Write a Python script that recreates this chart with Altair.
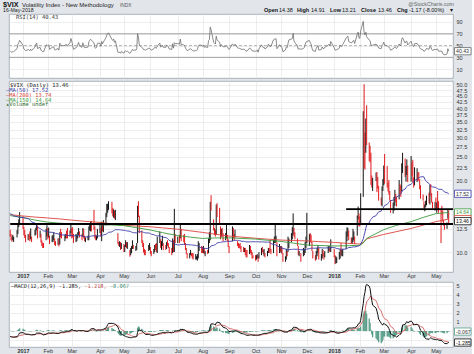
import altair as alt
import numpy as np
import pandas as pd

# ---------------- values ----------------
HOLIDAYS = ["2016-11-24", "2016-12-26", "2017-01-02", "2017-01-16", "2017-02-20",
            "2017-04-14", "2017-05-29", "2017-07-04", "2017-09-04", "2017-11-23",
            "2017-12-25", "2018-01-01", "2018-01-15", "2018-02-19", "2018-03-30"]
DISPLAY_START = "2016-12-19"

# daily closes, one inner list per month (Oct/Nov and early Dec 2016 only warm up the indicators)
close_2016 = [
    [13.57, 13.63, 12.99, 12.84, 13.48, 13.38, 15.36, 15.91, 16.12, 16.12, 16.21, 15.28, 14.41, 13.75, 13.34,
     13.02, 13.46, 14.24, 15.36, 16.19, 17.06],
    [18.56, 19.32, 22.08, 22.51, 18.71, 18.74, 14.38, 14.74, 14.17, 14.48, 13.37, 13.72, 13.35, 12.85, 12.42,
     12.41, 12.43, 12.34, 13.15, 12.90, 13.33],
    [14.07, 14.12, 12.14, 11.79, 12.22, 12.64, 11.75, 12.64, 12.72, 13.19, 12.79, 12.20,
     11.71, 11.45, 11.27, 11.43, 11.44, 11.99, 12.95, 13.37, 14.04],
]
high_2016 = [12.40, 11.90, 11.60, 11.80, 11.60, 12.35, 13.10, 13.70, 14.68]
low_2016 = [11.60, 11.20, 11.05, 11.20, 11.02, 11.50, 11.90, 12.70, 13.20]

close_2017 = [
    [12.85, 11.85, 11.67, 11.32, 11.56, 11.49, 11.26, 11.54, 11.23, 11.87, 12.48, 12.78, 11.54, 11.77, 11.07, 10.81, 10.63, 10.58, 11.88, 11.99],
    [11.81, 11.93, 10.97, 11.37, 11.45, 11.45, 10.88, 10.85, 11.07, 10.74, 11.97, 11.76, 11.49, 11.57, 11.74, 11.71, 11.47, 12.09, 12.92],
    [12.54, 11.81, 10.96, 11.24, 11.45, 11.86, 12.30, 11.66, 11.35, 12.30, 11.63, 11.21, 11.28, 11.34, 12.47, 12.81, 13.12, 12.96, 12.50, 11.53, 11.42, 11.54, 12.37],
    [12.38, 11.79, 12.89, 12.39, 12.87, 14.05, 15.07, 15.77, 15.96, 14.66, 14.42, 14.93, 14.15, 14.63, 10.84, 10.76, 10.85, 10.36, 10.82],
    [10.11, 10.59, 10.68, 10.46, 10.57, 9.77, 10.11, 10.21, 10.60, 10.40, 10.42, 10.65, 15.59, 14.66, 12.04, 10.93, 10.72, 10.02, 9.99, 9.81, 10.38, 10.41],
    [9.89, 9.75, 10.07, 10.45, 10.39, 10.16, 10.70, 11.46, 10.42, 10.64, 10.90, 10.38, 10.37, 10.86, 10.75, 10.48, 10.02, 9.90, 11.06, 10.03, 11.44, 11.18],
    [11.22, 11.07, 12.54, 11.19, 11.11, 10.89, 10.30, 9.90, 9.51, 9.82, 9.89, 9.79, 9.58, 9.36, 9.43, 9.43, 9.60, 10.11, 10.29, 10.26],
    [10.09, 10.28, 9.95, 10.03, 9.93, 10.96, 11.11, 16.04, 15.51, 12.33, 12.04, 11.74, 15.55, 14.26, 13.19, 11.35, 12.25, 11.78, 11.28, 11.32, 11.70, 11.22, 10.59],
    [10.13, 12.23, 11.63, 11.55, 12.12, 10.73, 10.58, 10.50, 10.44, 10.17, 10.15, 10.18, 9.78, 9.67, 9.59, 10.21, 10.17, 9.87, 9.55, 9.51],
    [9.45, 9.51, 9.63, 9.19, 9.65, 10.33, 10.08, 9.85, 9.91, 9.61, 9.91, 10.31, 10.07, 10.05, 9.97, 11.07, 11.16, 11.23, 11.30, 9.80, 10.50, 10.18],
    [10.20, 9.93, 9.14, 9.40, 9.89, 9.78, 10.50, 11.29, 11.50, 11.59, 13.13, 11.76, 11.43, 10.65, 9.73, 9.88, 9.67, 9.87, 10.03, 10.70, 11.28],
    [11.43, 11.68, 11.33, 11.02, 10.16, 9.58, 9.34, 9.92, 10.18, 10.49, 9.42, 9.53, 10.03, 9.72, 9.62, 9.90, 10.25, 10.47, 10.18, 11.04],
]
high_2017 = [
    [14.10, 12.75, 12.35, 11.80, 11.90, 11.85, 12.20, 12.55, 11.60, 12.40, 12.65, 13.10, 12.90, 12.30, 11.90, 11.20, 10.95, 10.90, 12.50, 12.95],
    [12.60, 12.65, 11.70, 11.70, 11.80, 12.10, 11.40, 11.10, 11.40, 11.40, 12.10, 12.50, 12.10, 11.80, 11.90, 12.30, 12.60, 12.30, 13.20],
    [12.60, 12.70, 11.90, 11.90, 11.80, 12.10, 12.60, 12.20, 11.90, 12.60, 12.50, 11.70, 11.50, 11.70, 12.80, 13.20, 13.40, 13.50, 15.00, 12.80, 11.80, 11.70, 12.50],
    [13.10, 12.60, 13.40, 13.10, 13.60, 14.60, 15.90, 15.90, 16.30, 16.20, 15.30, 15.10, 14.90, 15.00, 12.00, 11.00, 11.10, 11.00, 10.90],
    [10.80, 10.70, 11.20, 11.00, 11.00, 10.20, 10.40, 10.60, 11.20, 10.70, 10.60, 10.90, 15.60, 16.30, 14.20, 12.30, 11.20, 10.90, 10.30, 10.20, 10.70, 10.90],
    [10.50, 10.10, 10.30, 10.70, 10.80, 10.90, 11.60, 12.20, 11.30, 11.10, 11.70, 10.90, 10.70, 11.00, 11.20, 10.90, 10.50, 10.40, 11.40, 11.20, 15.16, 11.90],
    [11.60, 11.80, 13.20, 12.50, 11.80, 11.90, 10.90, 10.40, 9.90, 9.90, 10.20, 9.90, 9.90, 9.90, 9.80, 9.60, 9.80, 11.10, 10.90, 10.60],
    [10.50, 10.60, 10.40, 10.10, 10.20, 11.40, 12.10, 16.20, 17.28, 13.70, 12.60, 12.40, 15.80, 16.00, 15.30, 12.80, 12.50, 12.60, 12.00, 12.00, 13.00, 11.80, 11.30],
    [10.60, 12.80, 12.60, 11.90, 12.40, 11.10, 10.90, 10.80, 10.90, 10.60, 10.50, 10.40, 10.40, 10.20, 10.20, 10.70, 10.60, 10.20, 10.00, 9.70],
    [9.70, 9.70, 9.80, 9.70, 10.00, 10.40, 10.50, 10.20, 10.30, 9.90, 10.10, 10.40, 10.40, 11.20, 10.30, 11.20, 11.60, 13.20, 11.70, 11.00, 10.80, 10.60],
    [10.60, 10.50, 9.90, 9.60, 10.30, 10.10, 11.60, 11.40, 12.00, 12.70, 14.51, 12.60, 12.10, 11.40, 10.60, 10.10, 9.90, 10.40, 10.30, 11.00, 11.60],
    [14.58, 11.90, 12.00, 11.80, 11.00, 10.10, 9.70, 10.10, 10.40, 10.70, 10.40, 9.80, 10.30, 10.20, 9.90, 10.10, 10.60, 10.60, 10.50, 11.30],
]
low_2017 = [
    [12.50, 11.75, 11.45, 10.98, 11.20, 11.30, 11.10, 11.30, 11.00, 11.70, 11.80, 12.30, 11.40, 11.50, 10.95, 10.60, 10.40, 10.40, 11.20, 11.60],
    [11.30, 11.50, 10.80, 11.00, 11.00, 11.20, 10.70, 10.60, 10.70, 10.55, 10.75, 11.50, 11.40, 11.10, 11.40, 11.40, 11.40, 11.60, 12.00],
    [11.40, 11.50, 10.90, 11.00, 11.10, 11.40, 11.80, 11.50, 11.20, 11.60, 11.40, 11.10, 11.00, 11.20, 11.20, 12.30, 12.20, 12.20, 12.40, 11.40, 11.20, 11.20, 11.40],
    [12.00, 11.60, 11.10, 12.20, 12.10, 12.90, 14.00, 14.60, 15.00, 14.50, 14.10, 13.90, 13.80, 13.60, 10.80, 10.60, 10.50, 10.20, 10.30],
    [10.00, 10.00, 10.50, 10.40, 10.30, 9.56, 9.70, 9.90, 10.30, 10.30, 10.10, 10.20, 10.90, 14.00, 12.00, 10.90, 10.50, 9.95, 9.70, 9.70, 10.10, 10.20],
    [9.80, 9.60, 9.80, 10.00, 10.20, 10.00, 9.90, 10.90, 10.40, 10.20, 10.60, 10.20, 10.20, 10.30, 10.60, 10.40, 9.90, 9.70, 9.90, 10.00, 10.00, 10.90],
    [10.90, 10.90, 11.40, 11.10, 11.00, 10.70, 10.20, 9.80, 9.40, 9.40, 9.70, 9.60, 9.40, 9.30, 9.30, 9.30, 9.20, 9.40, 10.10, 9.90],
    [9.90, 9.90, 9.80, 9.60, 9.80, 9.90, 10.90, 11.20, 14.90, 12.30, 11.80, 11.60, 11.80, 14.00, 13.10, 11.30, 11.60, 11.60, 11.10, 11.20, 11.40, 11.10, 10.50],
    [9.90, 11.10, 11.40, 11.20, 11.50, 10.60, 10.40, 10.40, 10.30, 10.00, 10.00, 10.00, 9.70, 9.50, 9.50, 9.80, 9.90, 9.70, 9.40, 9.40],
    [9.20, 9.30, 9.40, 9.10, 9.40, 9.70, 10.00, 9.80, 9.60, 9.50, 9.60, 9.90, 9.90, 10.00, 9.80, 9.90, 10.90, 10.90, 11.00, 9.60, 9.90, 10.00],
    [9.90, 9.80, 9.10, 9.10, 9.30, 9.60, 10.00, 10.40, 11.00, 11.30, 11.80, 11.60, 11.30, 10.60, 9.70, 9.60, 9.10, 9.60, 9.70, 9.90, 10.40],
    [10.90, 10.60, 11.00, 10.90, 10.10, 9.40, 9.20, 9.30, 9.60, 9.90, 9.30, 9.20, 9.40, 9.60, 9.30, 9.50, 9.90, 10.10, 10.00, 10.00],
]

close_2018 = [
    [9.77, 9.15, 9.22, 9.22, 9.52, 10.08, 9.82, 9.88, 10.16, 11.66, 11.91, 12.22, 11.27, 11.03, 11.10, 11.47, 11.58, 11.08, 13.84, 14.79, 13.54],
    [13.47, 17.31, 37.32, 29.98, 27.73, 33.46, 29.06, 25.61, 24.97, 19.26, 19.13, 19.46, 20.60, 20.02, 18.72, 16.49, 15.80, 18.59, 19.85],
    [22.47, 19.59, 18.73, 18.36, 17.76, 16.54, 14.64, 15.78, 16.35, 17.23, 16.59, 15.80, 19.02, 18.20, 17.86, 23.34, 24.87, 21.03, 22.50, 22.87, 19.97],
    [23.62, 21.10, 20.06, 18.94, 21.49, 21.77, 20.47, 20.24, 18.49, 17.41, 16.56, 15.25, 15.60, 15.96, 16.88, 16.34, 18.02, 17.84, 16.24, 15.41, 15.93],
    [15.49, 15.97, 15.90, 14.77, 14.75, 14.71, 13.42, 13.23, 12.65, 12.93, 14.63, 13.46],
]
high_2018 = [
    [10.30, 9.70, 9.60, 9.50, 10.00, 10.30, 10.90, 10.20, 10.30, 12.20, 12.70, 12.60, 12.30, 11.50, 11.50, 12.50, 12.20, 11.60, 14.20, 15.50, 14.50],
    [14.10, 17.60, 38.80, 50.30, 31.64, 36.17, 41.06, 28.70, 27.80, 26.00, 20.90, 20.40, 21.50, 21.60, 20.60, 18.90, 16.90, 18.80, 20.20],
    [23.00, 25.70, 22.90, 19.50, 20.00, 18.00, 16.50, 16.10, 17.00, 18.20, 17.50, 17.00, 20.00, 19.20, 19.00, 23.50, 26.00, 24.60, 22.90, 24.40, 23.00],
    [25.20, 23.70, 24.30, 20.50, 22.60, 22.40, 21.50, 21.60, 20.10, 19.00, 17.40, 16.30, 15.80, 16.40, 17.20, 17.70, 19.10, 19.20, 17.60, 16.20, 16.20],
    [16.90, 16.10, 18.00, 16.30, 15.00, 15.60, 14.90, 13.60, 13.10, 13.30, 15.00, 14.91],
]
low_2018 = [
    [9.50, 8.90, 8.95, 9.00, 9.30, 9.40, 9.70, 9.60, 9.60, 10.30, 11.10, 11.60, 11.20, 10.90, 10.80, 11.00, 11.20, 10.80, 11.70, 13.70, 12.80],
    [12.80, 13.20, 17.00, 22.42, 22.10, 26.00, 28.00, 24.00, 23.70, 19.10, 18.60, 18.00, 19.80, 17.80, 18.40, 16.40, 15.70, 15.50, 18.00],
    [19.00, 19.30, 18.60, 17.90, 17.40, 16.40, 14.60, 14.50, 14.90, 15.60, 16.20, 15.50, 16.60, 17.40, 17.00, 17.90, 21.40, 20.60, 19.70, 21.00, 19.60],
    [19.70, 20.80, 19.60, 18.60, 19.00, 19.60, 19.80, 19.90, 18.30, 16.70, 16.40, 15.20, 14.80, 15.40, 15.70, 16.00, 15.80, 17.20, 16.10, 15.20, 14.90],
    [15.30, 14.60, 15.00, 14.60, 10.90, 14.30, 13.40, 12.90, 12.40, 12.50, 13.80, 13.21],
]

# long moving averages (semi-monthly)
ma_dates = ["2016-12-19", "2017-01-03", "2017-01-17", "2017-02-01", "2017-02-15", "2017-03-01", "2017-03-15",
            "2017-04-03", "2017-04-17", "2017-05-01", "2017-05-15", "2017-06-01", "2017-06-15", "2017-07-03",
            "2017-07-17", "2017-08-01", "2017-08-15", "2017-09-01", "2017-09-15", "2017-10-02", "2017-10-16",
            "2017-11-01", "2017-11-15", "2017-12-01", "2017-12-15", "2018-01-02", "2018-01-16", "2018-02-01",
            "2018-02-05", "2018-02-09", "2018-02-15", "2018-03-01", "2018-03-15", "2018-04-02", "2018-04-16",
            "2018-05-01", "2018-05-16"]
ma150 = [14.20, 13.95, 13.60, 13.33, 13.20, 13.09, 13.05, 13.00, 12.98, 12.89,
         12.65, 12.36, 12.05, 11.71, 11.55, 11.40, 11.45, 11.46, 11.40, 11.33,
         11.20, 11.07, 10.90, 10.70, 10.65, 10.60, 10.62, 10.67, 10.90, 11.40,
         11.70, 12.40, 12.90, 13.40, 13.95, 14.47, 14.64]
ma200 = [14.33, 14.15, 14.00, 13.88, 13.75, 13.60, 13.45, 13.30, 13.12, 12.93,
         12.85, 12.75, 12.62, 12.46, 12.27, 12.08, 11.88, 11.66, 11.55, 11.42,
         11.32, 11.22, 11.17, 11.13, 11.05, 10.97, 10.88, 10.80, 10.96, 11.35,
         11.50, 11.85, 12.15, 12.55, 12.95, 13.40, 13.74]

# drawn horizontal support lines
trend_start = ["2016-12-19", "2018-01-16"]
trend_end = ["2018-05-21", "2018-05-21"]
trend_level = [13.1, 15.1]

# ---------------- assemble ----------------
days = pd.bdate_range("2016-10-03", "2018-05-16")
days = days[~days.isin(pd.to_datetime(HOLIDAYS))]
months = [(2016, m) for m in (10, 11, 12)] + [(2017, m) for m in range(1, 13)] + [(2018, m) for m in range(1, 6)]
month_closes = close_2016 + close_2017 + close_2018
for (yy, mm), vals in zip(months, month_closes):
    n = int(((days.year == yy) & (days.month == mm)).sum())
    if n != len(vals):
        raise ValueError(f"{yy}-{mm}: {len(vals)} values for {n} days")
closes = [v for mth in month_closes for v in mth]
s = pd.Series(closes, index=days, dtype=float)

# indicators shown by the chart, derived from the closes
ma50 = s.rolling(50).mean()
delta = s.diff()
up_avg = delta.clip(lower=0).ewm(alpha=1 / 14, adjust=False).mean()
dn_avg = (-delta).clip(lower=0).ewm(alpha=1 / 14, adjust=False).mean()
rsi = 100 - 100 / (1 + up_avg / dn_avg)
macd = s.ewm(span=12, adjust=False).mean() - s.ewm(span=26, adjust=False).mean()
signal = macd.ewm(span=9, adjust=False).mean()
hist = macd - signal

mask = days >= pd.Timestamp(DISPLAY_START)
highs = high_2016 + [v for m in high_2017 for v in m] + [v for m in high_2018 for v in m]
lows = low_2016 + [v for m in low_2017 for v in m] + [v for m in low_2018 for v in m]
px = pd.DataFrame({
    "date": days[mask].strftime("%Y-%m-%d"),
    "close": s[mask].values,
    "prev": s.shift(1)[mask].values,
    "high": highs, "low": lows,
    "ma50": ma50[mask].values,
    "rsi": rsi[mask].values,
    "macd": macd[mask].values, "sig": signal[mask].values, "hist": hist[mask].values,
})
px["dir"] = np.where(px["close"] >= px["prev"], "up", "down")
px["zero"] = 0.0

ma_df = pd.DataFrame({"date": ma_dates, "m150": ma150, "m200": ma200})
trend_df = pd.DataFrame({"date": trend_start, "end": trend_end, "lvl": trend_level})

# ---------------- styling ----------------
SANS = "Liberation Sans"
MONO = "DejaVu Sans Mono"
BG = "#e2e6eb"
RED, BLK = "#e2191c", "#141414"
BLUE, MARED, GRN, HISTC = "#3b3ba8", "#d8443c", "#3d9a3d", "#5a9f8a"
W, H_RSI, H_PX, H_MACD = 444, 64, 191, 65
ONE = pd.DataFrame({"k": [0]})


def ms(ts):
    return int(pd.Timestamp(ts).tz_localize("UTC").value // 10**6)


XDOM = [ms("2016-12-17 14:00"), ms("2018-05-21 00:00")]
dd = pd.to_datetime(px["date"])
firsts = dd.groupby([dd.dt.year, dd.dt.month]).min()
TICKS = [ms(d) for d in firsts if d >= pd.Timestamp("2017-01-01")]
XSCALE = alt.Scale(type="utc", domain=XDOM, nice=False)
XLABEL = "utcmonth(datum.value) == 0 ? utcFormat(datum.value, '%Y') : utcFormat(datum.value, '%b')"


def xaxis(show):
    if show:
        return alt.Axis(values=TICKS, title=None, grid=True, ticks=False, domain=False, labelExpr=XLABEL,
                        labelFontSize=5.5, labelPadding=1.5, labelFlush=False, labelOverlap=False,
                        labelColor="#333",
                        labelFontWeight={"condition": {"test": "utcmonth(datum.value) == 0", "value": "bold"},
                                         "value": "normal"})
    return alt.Axis(values=TICKS, title=None, grid=True, ticks=False, domain=False, labels=False)


def xenc(show, field="date"):
    return alt.X(f"{field}:T", scale=XSCALE, axis=xaxis(show))


def yaxis(values, fmt=None, expr=None):
    kw = dict(orient="right", values=values, title=None, grid=True, ticks=False, domain=False,
              labelPadding=3, labelFontSize=5.5, labelFlush=False, labelOverlap=False, labelColor="#333")
    if fmt:
        kw["format"] = fmt
    if expr:
        kw["labelExpr"] = expr
    return alt.Axis(**kw)


RSI_Y = dict(scale=alt.Scale(domain=[-5, 103.5], nice=False, zero=False), axis=yaxis([10, 30, 50, 70, 90]))
PX_Y = dict(scale=alt.Scale(type="log", domain=[8.25, 51.9], nice=False),
            axis=yaxis([10 + 2.5 * i for i in range(17)], fmt=".1f",
                       expr="datum.value == 17.5 || datum.value == 15 ? '' : datum.label"))
MACD_Y = dict(scale=alt.Scale(domain=[-1.78, 5.44], nice=False, zero=False),
              axis=yaxis([-1, 0, 1, 2, 3, 4, 5], expr="datum.value >= 1 ? datum.label : ''"))


def txt(s_, x, y, size=5.5, color="#222", weight="normal", font=SANS, align="left", baseline="middle", opacity=1.0):
    return alt.Chart(ONE).mark_text(text=s_, align=align, baseline=baseline, fontSize=size, font=font,
                                    fontWeight=weight, color=color, opacity=opacity).encode(
        x=alt.value(x), y=alt.value(y))


def vbox(v, lab, stroke, tcol, yk, show_text=True):
    d = pd.DataFrame({"v": [v], "lab": [lab]})
    r = alt.Chart(d).mark_rect(fill="white", stroke=stroke, strokeWidth=0.8, yOffset=-3.6, y2Offset=3.6).encode(
        x=alt.value(W + 1.5), x2=alt.value(W + 18), y=alt.Y("v:Q", **yk), y2=alt.Y2("v"))
    out = [r]
    if show_text:
        out.append(alt.Chart(d).mark_text(align="left", baseline="middle", fontSize=5.2, font=SANS,
                                          color=tcol).encode(x=alt.value(W + 3), y=alt.Y("v:Q", **yk),
                                                             text="lab:N"))
    return out


# ---------------- RSI panel ----------------
rsi_layers = [
    alt.Chart(pd.DataFrame({"lv": [30, 70]})).mark_rule(color="#8e8e8e", strokeWidth=0.8).encode(
        x=alt.value(0), x2=alt.value(W), y=alt.Y("lv:Q", **RSI_Y)),
    alt.Chart(pd.DataFrame({"lv": [50]})).mark_rule(color="#9a9a9a", strokeWidth=0.7, strokeDash=[3, 2]).encode(
        x=alt.value(0), x2=alt.value(W), y=alt.Y("lv:Q", **RSI_Y)),
    alt.Chart(px).mark_line(color="#6d6d6d", strokeWidth=0.8).encode(x=xenc(False), y=alt.Y("rsi:Q", **RSI_Y)),
    txt("RSI(14) 40.43", 7, 3.0, size=5.4, font=MONO, color="#333"),
    *vbox(40.43, "40.43", "#666", "#333", RSI_Y),
    # header
    txt("$VIX", -6, -7.5, size=7.2, weight="bold", color="#111", baseline="alphabetic"),
    txt("Volatility Index - New Methodology", 13, -7.5, size=6, color="#222", baseline="alphabetic"),
    txt("INDX", 111, -7.5, size=4.8, color="#555", baseline="alphabetic"),
    txt("16-May-2018", -6, -1.8, size=5.2, color="#222", baseline="alphabetic"),
    txt("@StockCharts.com", 445, -8.5, size=5.3, color="#666", align="right", baseline="alphabetic"),
]
hdr = [("Open", 255, "bold"), ("14.38", 270, "normal"), ("High", 288, "bold"), ("14.91", 302, "normal"),
       ("Low", 321, "bold"), ("13.21", 333, "normal"), ("Close", 352, "bold"), ("13.46", 369, "normal"),
       ("Chg", 388, "bold"), ("-1.17 (-8.00%)", 400, "normal"), ("\u25be", 441, "normal")]
for t_, x_, w_ in hdr:
    rsi_layers.append(txt(t_, x_, -1.8, size=5.5, weight=w_, color="#111", baseline="alphabetic"))
rsi = alt.layer(*rsi_layers).properties(width=W, height=H_RSI)

# ---------------- price panel ----------------
px_layers = [
    alt.Chart(px).mark_rule(strokeWidth=1).encode(
        x=xenc(True), y=alt.Y("low:Q", **PX_Y), y2=alt.Y2("high"),
        color=alt.Color("dir:N", scale=alt.Scale(domain=["up", "down"], range=[BLK, RED]), legend=None)),
    alt.Chart(ma_df).mark_line(color=MARED, strokeWidth=0.9).encode(x=xenc(True), y=alt.Y("m200:Q", **PX_Y)),
    alt.Chart(ma_df).mark_line(color=GRN, strokeWidth=0.9).encode(x=xenc(True), y=alt.Y("m150:Q", **PX_Y)),
    alt.Chart(px).mark_line(color=BLUE, strokeWidth=0.9).encode(x=xenc(True), y=alt.Y("ma50:Q", **PX_Y)),
    alt.Chart(trend_df).mark_rule(color="#000", strokeWidth=1.8).encode(
        x=xenc(True), x2=alt.X2("end"), y=alt.Y("lvl:Q", **PX_Y)),
    txt("$VIX (Daily) 13.46", 1, 4, size=5.4, font=MONO, color="#222"),
    txt("\u2014MA(50) 17.52", -3, 9, size=5.4, font=MONO, color=BLUE),
    txt("\u2014MA(200) 13.74", -3, 14, size=5.4, font=MONO, color=MARED),
    txt("\u2014MA(150) 14.64", -3, 18.7, size=5.4, font=MONO, color=GRN),
    txt("\u25b4Volume undef", -3, 23.4, size=5.4, font=MONO, color="#2d6b2d"),
    txt(".", -6, 10, opacity=0.0),
    *vbox(17.52, "17.52", BLUE, "#333", PX_Y),
    *vbox(14.64, "14.64", GRN, GRN, PX_Y),
    *vbox(13.74, "13.74", MARED, MARED, PX_Y, show_text=False),
    *vbox(13.46, "13.46", "#111", "#111", PX_Y),
]
price = alt.layer(*px_layers).properties(width=W, height=H_PX)

# ---------------- MACD panel ----------------
mc_layers = [
    alt.Chart(px).mark_rule(color=HISTC, strokeWidth=1.3).encode(
        x=xenc(True), y=alt.Y("zero:Q", **MACD_Y), y2=alt.Y2("hist")),
    alt.Chart(px).mark_line(color="#d4605c", strokeWidth=0.9).encode(x=xenc(True), y=alt.Y("sig:Q", **MACD_Y)),
    alt.Chart(px).mark_line(color="#111", strokeWidth=1.0).encode(x=xenc(True), y=alt.Y("macd:Q", **MACD_Y)),
    txt("\u2014MACD(12,26,9) -1.285,", 2, 3.5, size=5.3, font=MONO, color="#222"),
    txt("-1.218,", 2 + 23 * 3.19, 3.5, size=5.3, font=MONO, color="#c0504d"),
    txt("-0.067", 2 + 31 * 3.19, 3.5, size=5.3, font=MONO, color="#3e8f78"),
    txt(".", -6, 10, opacity=0.0),
    *vbox(-0.067, "-0.067", HISTC, "#333", MACD_Y),
    *vbox(-1.285, "-1.285", "#111", "#111", MACD_Y),
]
macd_chart = alt.layer(*mc_layers).properties(width=W, height=H_MACD)

chart = alt.vconcat(rsi, price, macd_chart, spacing=1, background=BG,
                    padding={"left": 2, "top": 0, "right": 0, "bottom": 0})
chart = chart.configure_view(stroke="#9aa2ab", strokeWidth=0.8, fill="white").configure_axis(
    gridColor="#e6e6e6", gridWidth=0.7, labelFont=SANS, labelColor="#333")

chart.save("out.html", embed_options={"renderer": "svg", "actions": False})
